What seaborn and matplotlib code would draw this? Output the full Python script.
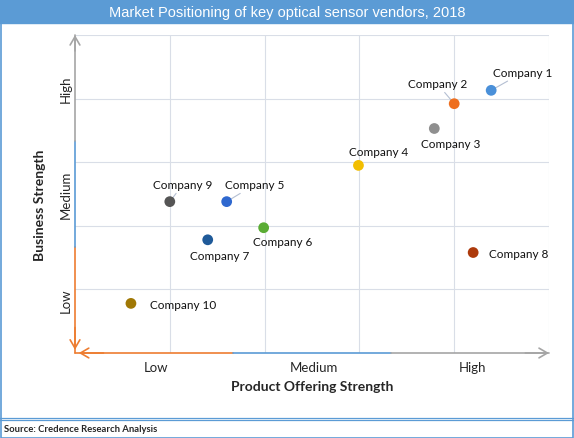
import matplotlib
matplotlib.use("Agg")
import matplotlib.pyplot as plt
from matplotlib.patches import Rectangle
from matplotlib.lines import Line2D
import pandas as pd
import seaborn as sns

# values (0-5 scale on both axes)
companies = ["Company 1", "Company 2", "Company 3", "Company 4", "Company 5",
             "Company 6", "Company 7", "Company 8", "Company 9", "Company 10"]
product_strength = [4.39, 4.0, 3.79, 2.99, 1.6, 1.99, 1.4, 4.2, 1.0, 0.59]
business_strength = [4.13, 3.92, 3.53, 2.95, 2.38, 1.97, 1.78, 1.58, 2.38, 0.78]
level_labels = ["Low", "Medium", "High"]

colors = ["#4a90d9", "#ee6f1f", "#8f8f8f", "#f2be00", "#2f68cf",
          "#5aac34", "#1f5a99", "#ad3a0c", "#555555", "#a07805"]

# label offsets in pixels, and whether a leader line is drawn
label_offsets = {
    "Company 1": (32, 18, True), "Company 2": (-17, 20, True),
    "Company 3": (16, -15, False), "Company 4": (20, 14, False),
    "Company 5": (28, 17, True), "Company 6": (19, -14, False),
    "Company 7": (12, -16, False), "Company 8": (46, -1, False),
    "Company 9": (13, 17, True), "Company 10": (52, -1, False),
}

df = pd.DataFrame({"company": companies, "product": product_strength,
                   "business": business_strength})

sns.set_style("white")
plt.rcParams["font.family"] = ["Lato", "DejaVu Sans"]

W, H = 574, 439
fig = plt.figure(figsize=(W / 100, H / 100), dpi=100)
ax = fig.add_axes([75 / W, 1 - 354 / H, 474 / W, 318 / H])

# frame, title bar and source strip
blue = "#5b9bd5"
fig.patches.append(Rectangle((0, 1 - 24 / H), 1, 24 / H, transform=fig.transFigure,
                             color=blue, zorder=0))
fig.patches.append(Rectangle((0.5 / W, 0.5 / H), 1 - 1.5 / W, 1 - 1.5 / H,
                             transform=fig.transFigure, fill=False, ec=blue, lw=1.2))
for yy in (418.5, 421):
    fig.lines.append(Line2D([0, 1], [1 - yy / H, 1 - yy / H], transform=fig.transFigure,
                            color=blue, lw=0.9))
fig.text(0.5, 1 - 13 / H, "Market Positioning of key optical sensor vendors, 2018",
         ha="center", va="center", color="white", fontsize=10.5, family="Liberation Sans")
fig.text(4 / W, 1 - 429.5 / H, "Source: Credence Research Analysis", ha="left",
         va="center", fontsize=6.8, fontweight="bold")

sns.scatterplot(data=df, x="product", y="business", hue="company", palette=colors,
                s=60, edgecolor="none", legend=False, ax=ax, zorder=5)

for _, row in df.iterrows():
    dx, dy, leader = label_offsets[row["company"]]
    ax.annotate(row["company"], (row["product"], row["business"]),
                xytext=(dx, dy), textcoords="offset pixels", ha="center", va="center",
                fontsize=8.5, color="#111111",
                arrowprops=dict(arrowstyle="-", color="#b4bfd2", lw=0.8,
                                shrinkA=14, shrinkB=2) if leader else None)

ax.set_xlim(0, 5)
ax.set_ylim(0, 5)
ax.set_xticks([1, 2, 3, 4, 5])
ax.set_yticks([1, 2, 3, 4, 5])
ax.set_xlabel("")
ax.set_ylabel("")
ax.grid(True, color="#d9dee7", lw=0.8)
ax.tick_params(length=0, labelbottom=False, labelleft=False)
for sp in ax.spines.values():
    sp.set_visible(False)

# axis arrows split into thirds
seg_cols = ["#ed7d31", "#5b9bd5", "#a5a5a5"]
for i, c in enumerate(seg_cols):
    ax.plot([i / 3, (i + 1) / 3], [0, 0], transform=ax.transAxes, color=c, lw=1.2,
            clip_on=False, zorder=3)
    ax.plot([0, 0], [i / 3, (i + 1) / 3], transform=ax.transAxes, color=c, lw=1.2,
            clip_on=False, zorder=3)
head = "->,head_length=0.6,head_width=0.35"
ax.annotate("", (1, 0), (0.95, 0), xycoords="axes fraction",
            arrowprops=dict(arrowstyle=head, color="#a5a5a5", lw=1.2, shrinkA=0, shrinkB=0))
ax.annotate("", (0, 1), (0, 0.95), xycoords="axes fraction",
            arrowprops=dict(arrowstyle=head, color="#a5a5a5", lw=1.2, shrinkA=0, shrinkB=0))
ax.annotate("", (0.008, 0), (0.06, 0), xycoords="axes fraction",
            arrowprops=dict(arrowstyle=head, color="#ed7d31", lw=1.2, shrinkA=0, shrinkB=0))
ax.annotate("", (0, 0.01), (0, 0.08), xycoords="axes fraction",
            arrowprops=dict(arrowstyle=head, color="#ed7d31", lw=1.2, shrinkA=0, shrinkB=0))

for i, lab in enumerate(level_labels):
    ax.text((i + 0.5) / 3 + 0.005, -14 / 318, lab, transform=ax.transAxes, ha="center",
            va="center", fontsize=9.5)
    ax.text(-9 / 474, (i + 0.5) / 3, lab, transform=ax.transAxes, ha="center",
            va="center", rotation=90, fontsize=9.5)

fig.text(312 / W, 1 - 387 / H, "Product Offering Strength", ha="center", va="center",
         fontsize=10, fontweight="bold")
fig.text(40 / W, 1 - 205 / H, "Business Strength", ha="center", va="center",
         rotation=90, fontsize=10, fontweight="bold")

fig.savefig("out.png", dpi=100)
